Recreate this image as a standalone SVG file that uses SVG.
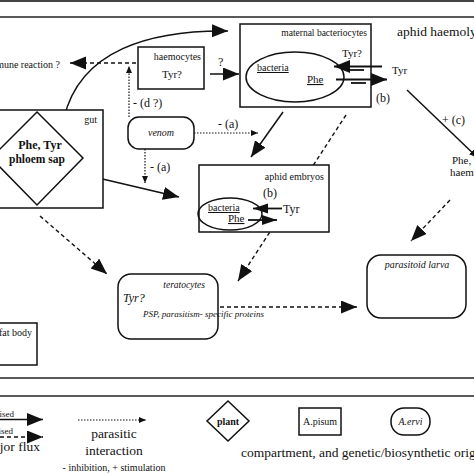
<svg xmlns="http://www.w3.org/2000/svg" width="474" height="474" viewBox="0 0 474 474">
<style>
text{font-family:"Liberation Serif","Times New Roman",serif;fill:#111}
.box{fill:#fff;stroke:#111;stroke-width:1.5}
.el{fill:none;stroke:#111;stroke-width:1.5}
.s{fill:none;stroke:#111;stroke-width:1.5}
.th{fill:none;stroke:#111;stroke-width:1.8}
.d{fill:none;stroke:#111;stroke-width:1.4;stroke-dasharray:4,3}
.o{fill:none;stroke:#111;stroke-width:1.2;stroke-dasharray:1.5,1.5}
.it{font-style:italic}
.b{font-weight:bold}
.u{text-decoration:underline}
.rule{stroke:#222;stroke-width:1.5}
</style>
<defs>
<marker id="big" markerUnits="userSpaceOnUse" markerWidth="17" markerHeight="14" refX="16" refY="6.5" orient="auto"><path d="M0,0 L16,6.5 L0,13 z" fill="#111"/></marker>
<marker id="emb" markerUnits="userSpaceOnUse" markerWidth="16" markerHeight="11" refX="15" refY="5" orient="auto"><path d="M0,0 L15,5 L0,10 z" fill="#111"/></marker>
<marker id="sm" markerUnits="userSpaceOnUse" markerWidth="8" markerHeight="6" refX="7" refY="3" orient="auto"><path d="M0,0 L7,3 L0,6 z" fill="#111"/></marker>
<marker id="md" markerUnits="userSpaceOnUse" markerWidth="10" markerHeight="8" refX="9" refY="3.5" orient="auto"><path d="M0,0 L9,3.5 L0,7 z" fill="#111"/></marker>
</defs>
<rect x="0" y="0" width="474" height="2" fill="#444"/>
<line class="rule" x1="0" y1="17" x2="474" y2="17"/>
<line class="rule" x1="0" y1="378" x2="474" y2="378"/>
<line class="rule" x1="0" y1="396" x2="474" y2="396"/>
<text x="397" y="36" font-size="13.5">aphid haemolymph</text>

<g id="connectors">
<path class="s" d="M64,118 C80,50 150,30 228,31" marker-end="url(#big)"/>
<line class="d" x1="136" y1="63" x2="70" y2="63" marker-end="url(#big)"/>
<line class="o" x1="129" y1="117" x2="129" y2="66" marker-end="url(#sm)"/>
<line class="s" x1="210" y1="74" x2="239" y2="74" marker-end="url(#big)"/>
<line class="o" x1="194" y1="133" x2="258" y2="133" marker-end="url(#sm)"/>
<line class="o" x1="145" y1="149" x2="145" y2="183" marker-end="url(#sm)"/>
<line class="s" x1="77" y1="173" x2="179" y2="197" marker-end="url(#big)"/>
<line class="s" x1="283" y1="112" x2="251" y2="157" marker-end="url(#big)"/>
<line class="d" x1="346" y1="115" x2="238" y2="281" marker-end="url(#big)"/>
<line class="d" x1="40" y1="216" x2="107" y2="274" marker-end="url(#big)"/>
<line class="d" x1="220" y1="307" x2="357" y2="307" marker-end="url(#big)"/>
<line class="s" x1="407" y1="90" x2="478" y2="158" stroke-width="1.2" marker-end="url(#md)"/>
<line class="d" x1="450" y1="200" x2="411" y2="241" marker-end="url(#big)"/>
</g>

<g id="maternal-bacteriocytes">
<rect class="box" x="240" y="24" width="131" height="83"/>
<text x="367" y="36" font-size="9.5" text-anchor="end">maternal bacteriocytes</text>
<ellipse class="el" cx="295" cy="77" rx="49" ry="25"/>
<text class="u" x="257" y="71" font-size="10">bacteria</text>
<text class="u" x="307" y="83" font-size="11">Phe</text>
<text x="342" y="57" font-size="11">Tyr?</text>
<line class="th" x1="382" y1="66.5" x2="334" y2="66.5" marker-end="url(#big)"/>
<line class="th" x1="347" y1="70" x2="364" y2="70"/>
<line class="th" x1="336" y1="79.5" x2="387" y2="79.5" marker-end="url(#big)"/>
<line class="th" x1="351" y1="83" x2="366" y2="83"/>
<text x="392" y="74" font-size="11">Tyr</text>
<text x="376" y="102" font-size="12">(b)</text>
</g>

<g id="haemocytes">
<rect class="box" x="138" y="47" width="66" height="42"/>
<text x="201" y="60" font-size="10" text-anchor="end">haemocytes</text>
<text x="162" y="78" font-size="11">Tyr?</text>
<text x="218" y="66" font-size="12">?</text>
<text x="60" y="68" font-size="10" text-anchor="end">immune reaction ?</text>
<text x="133" y="107" font-size="12">- (d ?)</text>
</g>

<g id="gut">
<rect class="box" x="-5" y="110" width="108" height="98"/>
<text x="97" y="123" font-size="10" text-anchor="end">gut</text>
<polygon points="37,112 83,158 37,205 -9,158" fill="#fff" stroke="#111" stroke-width="1.5"/>
<text class="b" x="40" y="149" font-size="12" text-anchor="middle">Phe, Tyr</text>
<text class="b" x="37" y="163" font-size="11.5" text-anchor="middle">phloem sap</text>
</g>

<g id="venom">
<rect class="box" x="128" y="117" width="66" height="32" rx="11"/>
<text class="it" x="161" y="136" font-size="10" text-anchor="middle">venom</text>
<text x="218" y="128" font-size="12">- (a)</text>
<text x="150" y="171" font-size="12">- (a)</text>
</g>

<g id="aphid-embryos">
<rect class="box" x="199" y="165" width="130" height="67"/>
<text x="324" y="180" font-size="10" text-anchor="end">aphid embryos</text>
<ellipse class="el" cx="230" cy="214" rx="32" ry="16"/>
<text class="u" x="208" y="211" font-size="10">bacteria</text>
<text class="u" x="228" y="222" font-size="11">Phe</text>
<text x="263" y="197" font-size="12">(b)</text>
<text x="283" y="213" font-size="12">Tyr</text>
<line class="th" x1="282" y1="208.5" x2="253" y2="208.5" marker-end="url(#emb)"/>
<line class="th" x1="248" y1="220" x2="277" y2="220" marker-end="url(#emb)"/>
</g>

<g id="teratocytes">
<rect class="box" x="118" y="274" width="100" height="65" rx="13"/>
<text class="it" x="205" y="288" font-size="9.5" text-anchor="end">teratocytes</text>
<text class="it" x="123" y="302" font-size="12">Tyr?</text>
<text class="it" x="143" y="317" font-size="9">PSP, parasitism- specific proteins</text>
</g>

<g id="parasitoid-larva">
<rect class="box" x="367" y="255" width="99" height="63" rx="14"/>
<text class="it" x="417" y="268" font-size="10" text-anchor="middle">parasitoid larva</text>
</g>

<g id="haemolymph-pool">
<text x="442" y="124" font-size="12">+ (c)</text>
<text x="452" y="164" font-size="11">Phe, Tyr</text>
<text x="450" y="176" font-size="11">haemolymph</text>
</g>

<g id="fat-body">
<rect class="box" x="-5" y="323" width="42" height="42"/>
<text x="32" y="336" font-size="10" text-anchor="end">fat body</text>
</g>

<g id="legend">
<line class="s" x1="0" y1="419.5" x2="43" y2="419.5" marker-end="url(#big)"/>
<text x="14" y="417" font-size="9" text-anchor="end">parasitised</text>
<line class="d" x1="0" y1="437" x2="43" y2="437" marker-end="url(#big)"/>
<text x="13" y="434" font-size="9" text-anchor="end">unparasitised</text>
<text x="40" y="451" font-size="13.5" text-anchor="end">major flux</text>
<line class="o" x1="78" y1="420" x2="146" y2="420" marker-end="url(#sm)"/>
<text x="114" y="438" font-size="13.5" text-anchor="middle">parasitic</text>
<text x="114" y="455" font-size="13.5" text-anchor="middle">interaction</text>
<text x="114" y="471" font-size="10" text-anchor="middle">- inhibition, + stimulation</text>
<polygon points="228,401 249,421 228,441 207,421" fill="#fff" stroke="#111" stroke-width="1.5"/>
<text class="b" x="228" y="425" font-size="10" text-anchor="middle">plant</text>
<rect class="box" x="299" y="408" width="42" height="27"/>
<text x="320" y="425" font-size="10" text-anchor="middle">A.pisum</text>
<rect class="box" x="391" y="408" width="39" height="27" rx="13"/>
<text class="it" x="410.5" y="425" font-size="10" text-anchor="middle">A.ervi</text>
<text x="241" y="457" font-size="13.5">compartment, and genetic/biosynthetic origin</text>
</g>
</svg>
